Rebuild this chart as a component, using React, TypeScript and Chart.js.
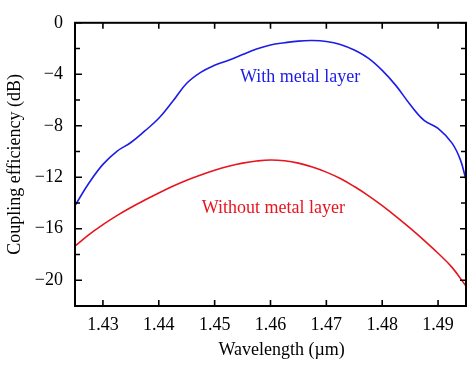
import { useEffect, useRef } from 'react';
import { Chart, registerables } from 'chart.js';

Chart.register(...registerables);

const blueWavelengths = [
  1.425, 1.4275, 1.43, 1.4325, 1.435, 1.4375, 1.44, 1.4425, 1.445, 1.4475,
  1.45, 1.4525, 1.455, 1.4575, 1.46, 1.4625, 1.465, 1.4675, 1.47, 1.4725,
  1.475, 1.4775, 1.48, 1.4825, 1.485, 1.4875, 1.49, 1.4925, 1.494, 1.495,
];
const withMetal = [
  -14.2, -12.45, -11.0, -9.98, -9.3, -8.4, -7.42, -6.1, -4.7, -3.85,
  -3.3, -2.9, -2.47, -2.04, -1.72, -1.55, -1.42, -1.38, -1.45, -1.68,
  -2.12, -2.75, -3.7, -4.9, -6.35, -7.58, -8.2, -9.35, -10.65, -12.2,
];
const redWavelengths = [
  1.425, 1.4275, 1.43, 1.4325, 1.435, 1.4375, 1.44, 1.4425, 1.445, 1.4475,
  1.45, 1.4525, 1.455, 1.4575, 1.46, 1.4625, 1.465, 1.4675, 1.47, 1.4725,
  1.475, 1.4775, 1.48, 1.4825, 1.485, 1.4875, 1.49, 1.4925, 1.495,
];
const withoutMetal = [
  -17.35, -16.45, -15.68, -14.98, -14.35, -13.77, -13.22, -12.7, -12.23, -11.82,
  -11.45, -11.14, -10.9, -10.74, -10.66, -10.72, -10.9, -11.2, -11.6, -12.1,
  -12.72, -13.42, -14.2, -15.05, -15.95, -16.9, -17.9, -19.0, -20.45,
];
const xTicks = [1.43, 1.44, 1.45, 1.46, 1.47, 1.48, 1.49];
const yMajorTicks = [0, -4, -8, -12, -16, -20];
const yMinorTicks = [-2, -6, -10, -14, -18, -22];

const seriesNames = ['With metal layer', 'Without metal layer'];
const seriesColors = ['#1c1ce6', '#e8141e'];
const labelX = [1.4653, 1.4605];
const labelY = [-4.24, -14.4];
const xTitle = 'Wavelength (\u00b5m)';
const xTitleCenter = 1.462;
const yTitle = 'Coupling efficiency (dB)';

const FONT = '"Liberation Serif", "Times New Roman", serif';

const decorPlugin = {
  id: 'decor',
  afterDraw(chart: any) {
    const { ctx, chartArea: a, scales } = chart;
    const x = scales.x;
    const y = scales.y;
    ctx.save();
    ctx.strokeStyle = '#000';
    ctx.lineWidth = 1.6;
    ctx.beginPath();
    xTicks.forEach((v) => {
      const px = x.getPixelForValue(v);
      ctx.moveTo(px, a.bottom);
      ctx.lineTo(px, a.bottom - 6);
      ctx.moveTo(px, a.top);
      ctx.lineTo(px, a.top + 6);
    });
    yMajorTicks.forEach((v) => {
      const py = y.getPixelForValue(v);
      ctx.moveTo(a.left, py);
      ctx.lineTo(a.left + 7, py);
      ctx.moveTo(a.right, py);
      ctx.lineTo(a.right - 6, py);
    });
    yMinorTicks.forEach((v) => {
      const py = y.getPixelForValue(v);
      ctx.moveTo(a.left, py);
      ctx.lineTo(a.left + 5, py);
      ctx.moveTo(a.right, py);
      ctx.lineTo(a.right - 5, py);
    });
    ctx.stroke();
    ctx.lineWidth = 2;
    ctx.strokeRect(a.left, a.top, a.right - a.left, a.bottom - a.top);

    ctx.font = `18px ${FONT}`;
    ctx.textAlign = 'center';
    ctx.textBaseline = 'middle';
    seriesNames.forEach((name, i) => {
      ctx.fillStyle = seriesColors[i];
      ctx.fillText(name, x.getPixelForValue(labelX[i]), y.getPixelForValue(labelY[i]));
    });
    ctx.fillStyle = '#000';
    ctx.fillText(xTitle, x.getPixelForValue(xTitleCenter), a.bottom + 44);
    ctx.restore();
  },
};

export default function App() {
  const ref = useRef<HTMLCanvasElement>(null);
  useEffect(() => {
    document.body.style.margin = '0';
    const canvas = ref.current;
    if (!canvas) return;
    const series = [
      { xs: blueWavelengths, ys: withMetal },
      { xs: redWavelengths, ys: withoutMetal },
    ];
    const chart = new Chart(canvas, {
      type: 'line',
      data: {
        datasets: series.map((s, i) => ({
          label: seriesNames[i],
          data: s.xs.map((w, j) => ({ x: w, y: s.ys[j] })),
          borderColor: seriesColors[i],
          borderWidth: 1.6,
          pointRadius: 0,
          fill: false,
          tension: 0.4,
        })),
      },
      options: {
        responsive: false,
        animation: false,
        devicePixelRatio: 1,
        layout: { padding: { left: 0, top: 16, right: 8, bottom: 0 } },
        plugins: { legend: { display: false }, tooltip: { enabled: false } },
        scales: {
          x: {
            type: 'linear',
            min: 1.425,
            max: 1.495,
            afterBuildTicks: (s: any) => {
              s.ticks = xTicks.map((v) => ({ value: v }));
            },
            afterFit: (s: any) => {
              s.height = 60;
            },
            grid: { display: false, drawTicks: false },
            border: { display: false },
            ticks: {
              color: '#000',
              font: { family: FONT, size: 18 },
              padding: 8,
              maxRotation: 0,
              autoSkip: false,
              callback: (v: any) => Number(v).toFixed(2),
            },
          },
          y: {
            type: 'linear',
            min: -22,
            max: 0,
            afterBuildTicks: (s: any) => {
              s.ticks = yMajorTicks.map((v) => ({ value: v }));
            },
            afterFit: (s: any) => {
              s.width = 75;
            },
            grid: { display: false, drawTicks: false },
            border: { display: false },
            ticks: {
              color: '#000',
              font: { family: FONT, size: 18 },
              padding: 12,
              callback: (v: any) => (Number(v) < 0 ? '\u2212' + Math.abs(Number(v)) : String(v)),
            },
            title: {
              display: true,
              text: yTitle,
              color: '#000',
              font: { family: FONT, size: 18 },
              padding: { top: 4, bottom: 0 },
            },
          },
        },
      },
      plugins: [decorPlugin],
    });
    return () => chart.destroy();
  }, []);
  return (
    <div style={{ width: 474, height: 366 }}>
      <canvas ref={ref} width={474} height={366} style={{ display: 'block' }} />
    </div>
  );
}
